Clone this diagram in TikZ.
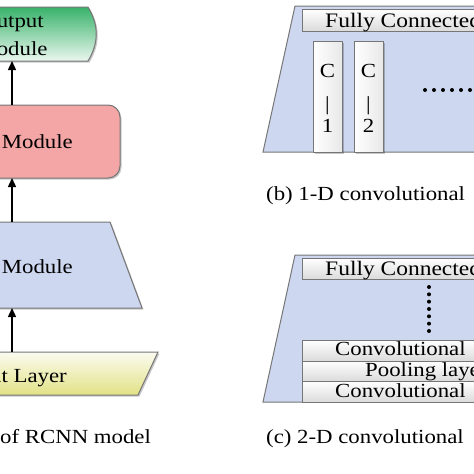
\documentclass[tikz,border=0pt]{standalone}
\usepackage{fontspec}
\setmainfont{Liberation Serif}[FakeStretch=1.14]
\usetikzlibrary{arrows.meta,shadows}
\definecolor{edge}{RGB}{118,118,118}
\definecolor{outtop}{RGB}{56,178,106}
\definecolor{outbot}{RGB}{234,247,238}
\definecolor{rnnfill}{RGB}{244,166,166}
\definecolor{panelblue}{RGB}{205,216,240}
\definecolor{yellowtop}{RGB}{251,251,240}
\definecolor{yellowbot}{RGB}{226,226,134}
\begin{document}
\begin{tikzpicture}[x=1pt,y=-1pt,
  txt/.style={inner sep=0pt, font=\fontsize{20}{24}\selectfont},
  fctxt/.style={inner sep=0pt, font=\fontsize{20.6}{24}\selectfont},
  outline/.style={draw=edge, line width=1pt},
  shad/.style={drop shadow={shadow xshift=1.5pt,shadow yshift=-1.5pt,opacity=0.22,fill=black}},
  conn/.style={line width=1.4pt, -{Triangle[width=8pt,length=9pt]}},
  layerbox/.style={draw=edge, line width=0.9pt, top color=white, bottom color=gray!28},
  cbox/.style={draw=edge, line width=0.9pt, left color=white, right color=gray!18},
  dotmark/.style={fill=black, circle, inner sep=0pt, minimum size=4pt}
]
\useasboundingbox (0,0) rectangle (474,474);
\clip (0,0) rectangle (474,474);
\fill[white] (0,0) rectangle (474,474);

% ---------- left column ----------
\path[outline, shad, top color=outtop, bottom color=outbot]
  (-100,7) -- (88,7) .. controls (99,25) and (99,43) .. (88,61) -- (-100,61) -- cycle;
\path[outline, shad, fill=rnnfill, rounded corners=12pt] (-96,105) rectangle (120,178);
\path[outline, shad, fill=panelblue] (-86,222) -- (110,222) -- (142,308) -- (-118,308) -- cycle;
\path[outline, shad, top color=yellowtop, bottom color=yellowbot]
  (-120,352) -- (158,352) -- (138,395) -- (-140,395) -- cycle;

\node[txt, anchor=base] (outA) at (12,27) {Output};
\node[txt, anchor=base] (outM) at (12,55) {Module};
\node[txt, anchor=base east] (rnnM) at (73,148) {Module};
\node[txt, anchor=base east] (cnnM) at (73,273) {Module};
\node[txt, anchor=base east] (inL) at (67,382) {Input Layer};
\node[txt, anchor=base west] (capA) at (0,443) {of RCNN model};

\coordinate (outB) at (12,61);
\coordinate (rnnT) at (12,105);
\coordinate (rnnB) at (12,178);
\coordinate (cnnT) at (12,222);
\coordinate (cnnB) at (12,308);
\coordinate (inT) at (12,352);
\draw[conn] (rnnT) -- (outB);
\draw[conn] (cnnT) -- (rnnB);
\draw[conn] (inT) -- (cnnB);

% ---------- panel (b) ----------
\path[outline, fill=panelblue] (295,6) -- (560,6) -- (590,152) -- (263,152) -- cycle;
\path[layerbox] (302,9) rectangle (550,31);
\node[fctxt, anchor=base west] (fcb) at (325,27) {Fully Connected};
\path[cbox, shad] (313,41) rectangle (342,152);
\path[cbox, shad] (354,41) rectangle (383,152);
\node[txt, anchor=base] (c1a) at (327.5,77) {C};
\node[txt, anchor=base] (c1b) at (327.5,110) {|};
\node[txt, anchor=base] (c1c) at (327.5,132) {1};
\node[txt, anchor=base] (c2a) at (368.5,77) {C};
\node[txt, anchor=base] (c2b) at (368.5,110) {|};
\node[txt, anchor=base] (c2c) at (368.5,132) {2};
\foreach \i in {0,...,5} \node[dotmark] (hd\i) at (425+9*\i,90) {};
\node[txt, anchor=base west] (capB) at (266,200) {(b) 1-D convolutional};

% ---------- panel (c) ----------
\path[outline, fill=panelblue] (295,255) -- (560,255) -- (590,402) -- (263,402) -- cycle;
\path[layerbox] (302,258) rectangle (550,279);
\node[fctxt, anchor=base west] (fcc) at (325,275) {Fully Connected};
\foreach \i in {0,...,6} \node[dotmark] (vd\i) at (429,287+7.33*\i) {};
\path[layerbox] (302,340) rectangle (550,361);
\path[layerbox] (302,361) rectangle (550,381);
\path[layerbox] (302,381) rectangle (550,402);
\node[txt, anchor=base west] (conv1) at (335,355) {Convolutional};
\node[txt, anchor=base west] (pool) at (365,376) {Pooling layer};
\node[txt, anchor=base west] (conv2) at (335,397) {Convolutional};
\node[txt, anchor=base west] (capC) at (266,443) {(c) 2-D convolutional};
\end{tikzpicture}
\end{document}
